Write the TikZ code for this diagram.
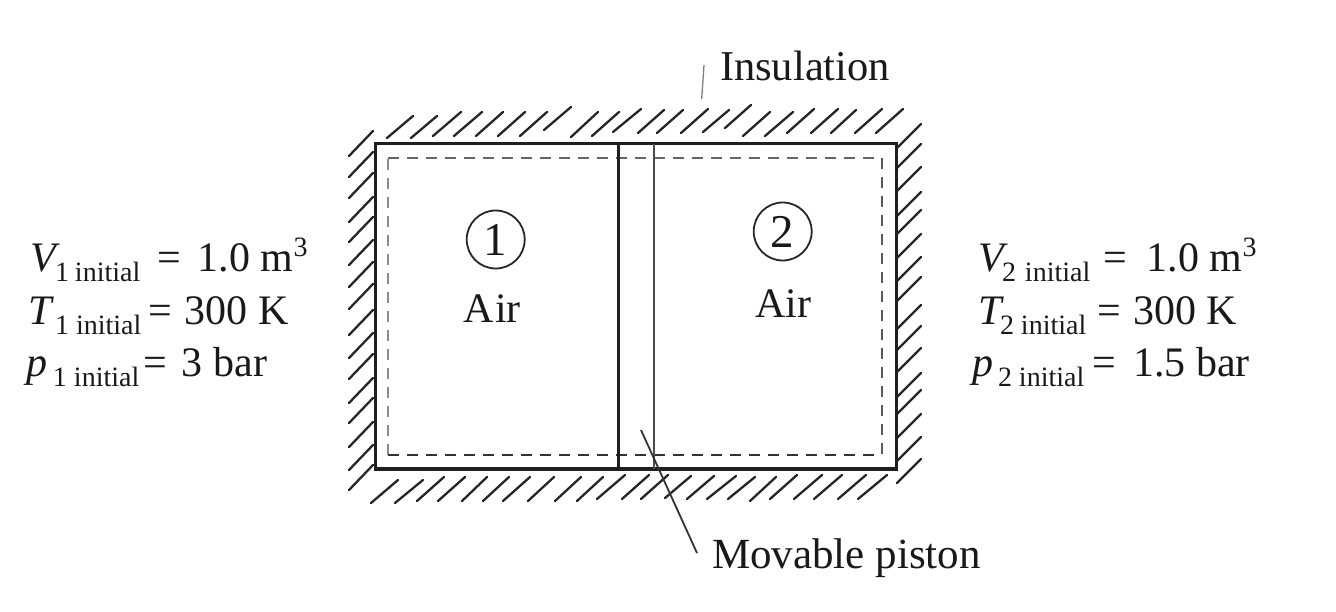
\documentclass[tikz,border=0pt]{standalone}
\usepackage{fontspec}
\setmainfont{Liberation Serif}
\newcommand{\subf}{\fontsize{28}{28}\selectfont}
\newcommand{\eqrow}[8]{\makebox[#1pt][l]{\textit{#2}}\raisebox{-#3pt}{\makebox[#4pt][l]{\subf #5}}\makebox[#6pt][l]{=}#7#8}
\newcommand{\cube}{\raisebox{15pt}{\subf 3}}
\tikzset{
  wall/.style={line width=3pt,color=black!88},
  pistonface/.style={line width=2pt,color=black!70},
  hatch/.style={line width=2.3pt,color=black!85,line cap=round},
  dashgray/.style={line width=2pt,color=black!45,dash pattern=on 11pt off 8pt},
  dashdark/.style={line width=2.4pt,color=black!80,dash pattern=on 11pt off 8pt},
  leader/.style={line width=1.8pt,color=black!80},
  thinleader/.style={line width=1.3pt,color=black!50},
  label/.style={inner sep=0pt,outer sep=0pt,anchor=base west,font=\fontsize{42}{42}\selectfont,text=black!90},
  zone/.style={circle,draw=black!85,line width=1.8pt,minimum size=58pt,inner sep=0pt,font=\fontsize{47}{47}\selectfont,text=black!90}
}
\begin{document}
\begin{tikzpicture}[x=1pt,y=-1pt]
\useasboundingbox (0,0) rectangle (1336,612);
% hatching: top
\foreach \a/\b/\c/\d in {
 387/138/413/116, 411/138/437/116, 433/136/461/112, 454/136/482/112, 476/136/503/112,
 498/136/525/112, 520/136/547/112, 544/130/571/107, 571/137/598/112, 592/136/619/112,
 613/132/641/109, 638/133/664/110, 657/133/683/110, 681/133/708/109, 703/132/729/110,
 725/128/751/105, 743/136/770/112, 765/136/793/112, 787/133/814/109, 811/133/838/109,
 831/133/856/110, 855/133/882/109, 876/133/903/109}
 {\draw[hatch] (\a,\b) -- (\c,\d);}
% hatching: left
\foreach \y in {156,177,198,222,242,265,287,309,335,358,379,403,423,447,470,490}
 {\draw[hatch] (349,\y) -- (373,\y-25);}
% hatching: right
\foreach \y in {124,144,167,192,210,234,257,277,305,326,348,373,390,414,437,459}
 {\draw[hatch] (897,\y+24) -- (921,\y);}
% hatching: bottom
\foreach \a/\b/\c/\d in {
 371/503/398/480, 395/503/423/480, 417/501/444/477, 438/501/465/477, 462/501/487/477,
 483/501/509/477, 503/501/530/477, 528/501/554/477, 555/501/581/477, 577/501/603/477,
 597/499/625/475, 622/499/649/475, 641/499/668/475, 665/498/691/476, 687/499/714/476,
 707/499/736/476, 728/499/755/477, 750/501/776/477, 770/499/797/475, 794/499/822/475,
 814/499/842/475, 838/499/866/475, 858/499/887/475}
 {\draw[hatch] (\a,\b) -- (\c,\d);}
% dashed inner boundary
\coordinate (dtl) at (388,158);
\coordinate (dtr) at (882,158);
\coordinate (dbr) at (882,455);
\coordinate (dbl) at (388,455);
\draw[dashgray] (dbl) -- (dtl);
\draw[dashgray,color=black!60] (dtl) -- (dtr);
\draw[dashdark,color=black!65] (dtr) -- (dbr);
\draw[dashdark] (dbl) -- (dbr);
% cylinder and piston
\coordinate (wtl) at (375,144);
\coordinate (wbr) at (896,469);
\draw[wall] (wtl) rectangle (wbr);
\draw[wall,line width=3.6pt] (375,469) -- (896,469);
\coordinate (pt1) at (618,144);
\coordinate (pb1) at (618,469);
\coordinate (pt2) at (654,144);
\coordinate (pb2) at (654,469);
\draw[wall] (pt1) -- (pb1);
\draw[pistonface] (pt2) -- (pb2);
% zones
\node[zone] (z1) at (495.7,239.5) {1};
\node[zone] (z2) at (782.7,231.5) {2};
\node[label] (air1) at (463,323) {A\hspace{2pt}ir};
\node[label] (air2) at (755,318) {Air};
% labels
\node[label,font=\fontsize{42.5}{42.5}\selectfont] (ins) at (720,81) {Insulation};
\node[label,font=\fontsize{43}{43}\selectfont] (mov) at (712,568) {Movable piston};
\coordinate (insfoot) at (701.7,99);
\coordinate (movtip) at (641,430);
\draw[thinleader] (insfoot) -- ([xshift=-16pt,yshift=16pt]ins.base west);
\draw[leader] (movtip) -- ([xshift=-15pt,yshift=15pt]mov.base west);
% left state
\node[label] (v1) at (30,272) {\eqrow{25}{V}{10}{102}{1\hspace{6pt}initial}{41}{1.0 m}{\cube}};
\node[label] (t1) at (28,324) {\eqrow{27}{T}{10}{93}{1 initial}{37}{300 K}{}};
\node[label] (p1) at (26,376) {\eqrow{27}{p}{10}{90}{1 initial}{39}{3 bar}{}};
% right state
\node[label] (v2) at (978,272) {\eqrow{24}{V}{10}{101}{2\hspace{9pt}initial}{44}{1.0 m}{\cube}};
\node[label] (t2) at (978,324) {\eqrow{22}{T}{10}{97}{2 initial}{36}{300 K}{}};
\node[label] (p2) at (972,376) {\eqrow{26}{p}{10}{94}{2 initial}{41}{1.5 bar}{}};
\end{tikzpicture}
\end{document}
